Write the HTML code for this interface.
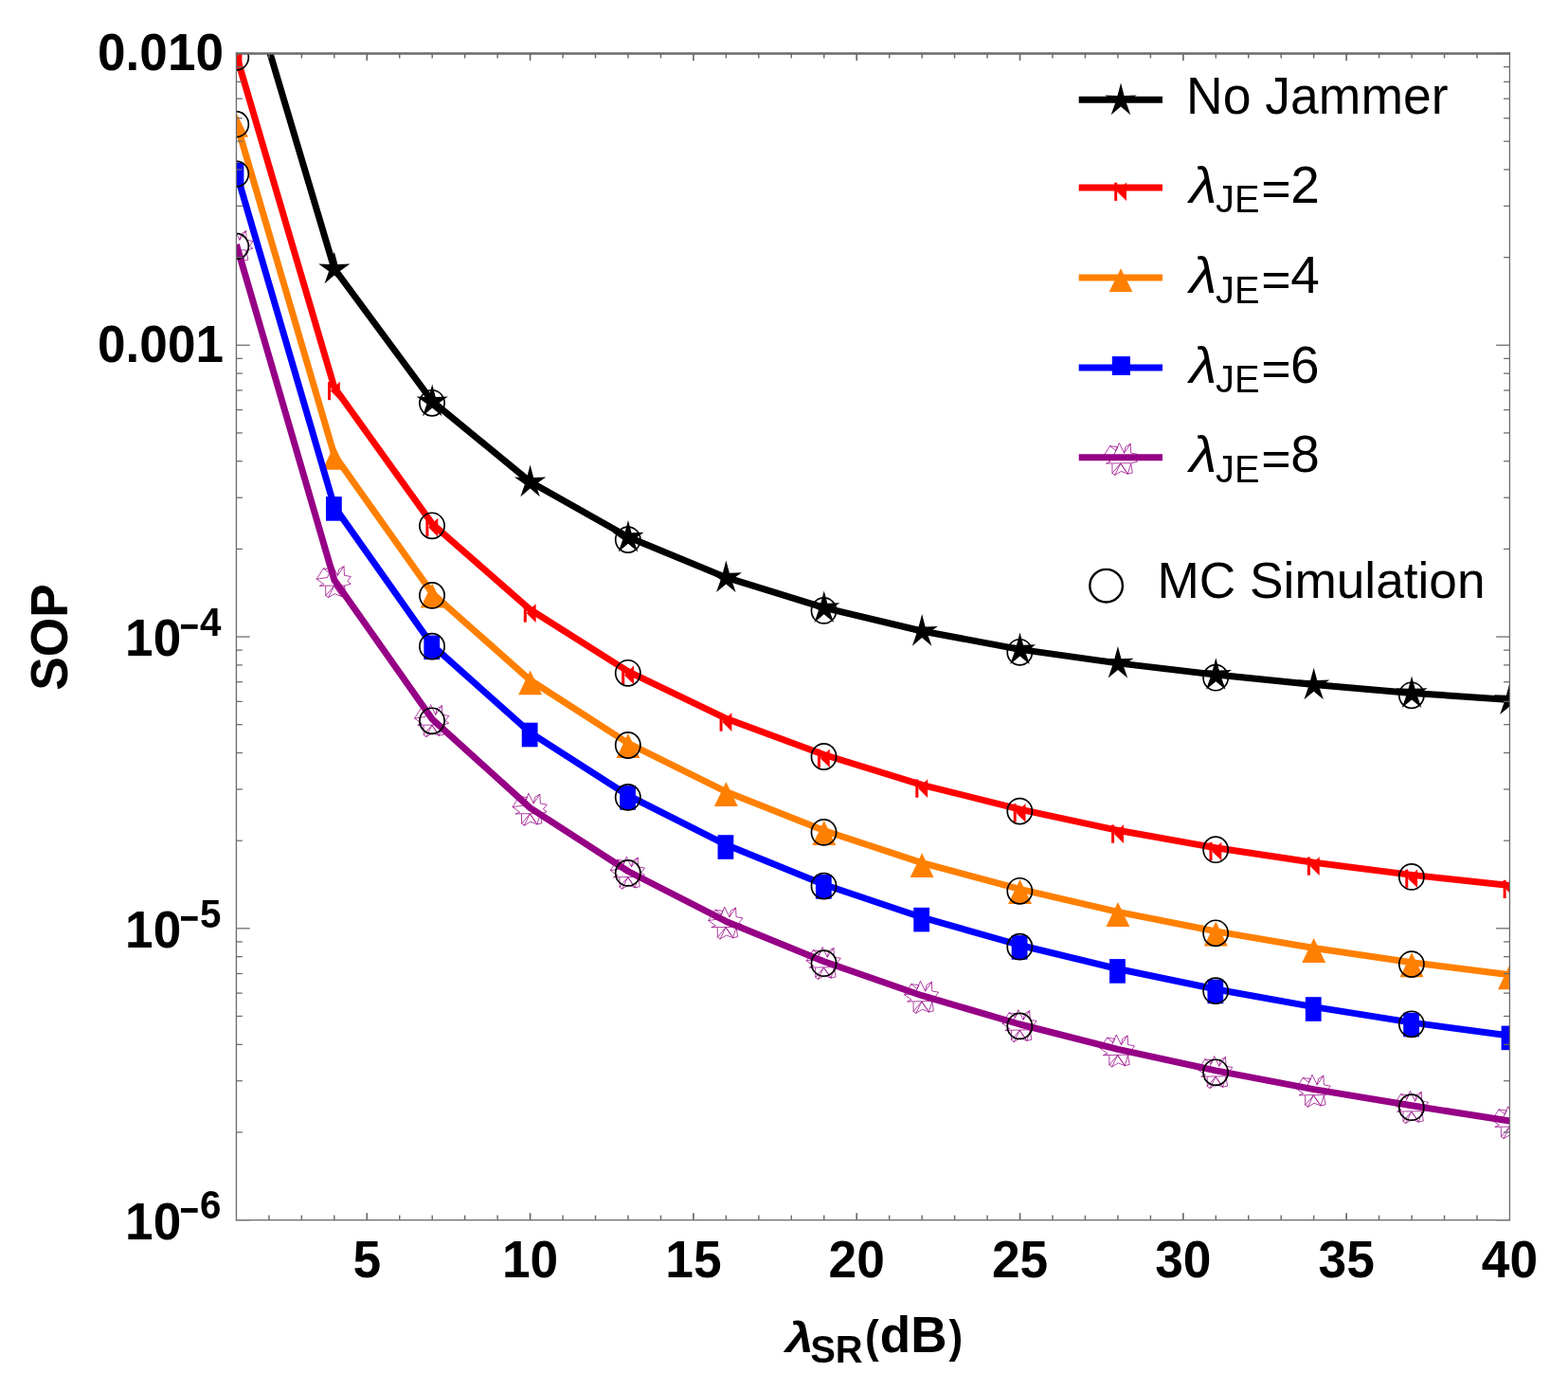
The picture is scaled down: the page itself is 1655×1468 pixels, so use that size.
<!DOCTYPE html>
<html lang="en"><head><meta charset="utf-8"><title>SOP versus λSR (dB)</title>
<style>html,body{margin:0;padding:0;background:#fff;}body{width:1655px;height:1468px;overflow:hidden;}svg{display:block;}text{font-family:'Liberation Sans', sans-serif;fill:#000;}</style>
</head><body>
<svg width="1655" height="1468" viewBox="0 0 1655 1468">
<rect x="0" y="0" width="1655" height="1468" fill="#ffffff"/>
<defs><clipPath id="plotclip"><rect x="249.45" y="56.5" width="1344" height="1231.1"/></clipPath></defs>
<g clip-path="url(#plotclip)">
<polyline points="249.45,-63 352.83,283.5 456.22,423.5 559.6,508.5 662.99,566.8 766.37,609.4 869.76,641.3 973.14,666 1076.53,685.4 1179.91,699.9 1283.3,712.1 1386.68,722.6 1490.07,731.4 1593.45,738.4" fill="none" stroke="#000000" stroke-width="7.0" stroke-linejoin="round"/>
<polygon points="249.45,-80.9 253,-67.53 266.09,-68.08 255.19,-60.37 259.74,-47.34 249.45,-55.95 239.16,-47.34 243.71,-60.37 232.81,-68.08 245.9,-67.53" fill="#000"/>
<polygon points="352.83,265.6 356.38,278.97 369.48,278.42 358.58,286.13 363.12,299.16 352.83,290.55 342.55,299.16 347.09,286.13 336.19,278.42 349.29,278.97" fill="#000"/>
<polygon points="456.22,405.6 459.77,418.97 472.86,418.42 461.96,426.13 466.51,439.16 456.22,430.55 445.93,439.16 450.48,426.13 439.58,418.42 452.67,418.97" fill="#000"/>
<polygon points="559.6,490.6 563.15,503.97 576.25,503.42 565.35,511.13 569.89,524.16 559.6,515.55 549.32,524.16 553.86,511.13 542.96,503.42 556.06,503.97" fill="#000"/>
<polygon points="662.99,548.9 666.54,562.27 679.63,561.72 668.73,569.43 673.27,582.46 662.99,573.85 652.7,582.46 657.25,569.43 646.34,561.72 659.44,562.27" fill="#000"/>
<polygon points="766.37,591.5 769.92,604.87 783.02,604.32 772.12,612.03 776.66,625.06 766.37,616.45 756.09,625.06 760.63,612.03 749.73,604.32 762.82,604.87" fill="#000"/>
<polygon points="869.76,623.4 873.31,636.77 886.4,636.22 875.5,643.93 880.04,656.96 869.76,648.35 859.47,656.96 864.02,643.93 853.11,636.22 866.21,636.77" fill="#000"/>
<polygon points="973.14,648.1 976.69,661.47 989.79,660.92 978.88,668.63 983.43,681.66 973.14,673.05 962.86,681.66 967.4,668.63 956.5,660.92 969.59,661.47" fill="#000"/>
<polygon points="1076.53,667.5 1080.08,680.87 1093.17,680.32 1082.27,688.03 1086.81,701.06 1076.53,692.45 1066.24,701.06 1070.78,688.03 1059.88,680.32 1072.98,680.87" fill="#000"/>
<polygon points="1179.91,682 1183.46,695.37 1196.56,694.82 1185.65,702.53 1190.2,715.56 1179.91,706.95 1169.63,715.56 1174.17,702.53 1163.27,694.82 1176.36,695.37" fill="#000"/>
<polygon points="1283.3,694.2 1286.84,707.57 1299.94,707.02 1289.04,714.73 1293.58,727.76 1283.3,719.15 1273.01,727.76 1277.55,714.73 1266.65,707.02 1279.75,707.57" fill="#000"/>
<polygon points="1386.68,704.7 1390.23,718.07 1403.32,717.52 1392.42,725.23 1396.97,738.26 1386.68,729.65 1376.39,738.26 1380.94,725.23 1370.04,717.52 1383.13,718.07" fill="#000"/>
<polygon points="1490.07,713.5 1493.61,726.87 1506.71,726.32 1495.81,734.03 1500.35,747.06 1490.07,738.45 1479.78,747.06 1484.32,734.03 1473.42,726.32 1486.52,726.87" fill="#000"/>
<polygon points="1593.45,720.5 1597,733.87 1610.09,733.32 1599.19,741.03 1603.74,754.06 1593.45,745.45 1583.16,754.06 1587.71,741.03 1576.81,733.32 1589.9,733.87" fill="#000"/>
<polyline points="249.45,58.3 352.83,408.8 456.22,552.8 559.6,643.3 662.99,708.6 766.37,758.3 869.76,796.5 973.14,828.3 1076.53,854.1 1179.91,876.3 1283.3,894.7 1386.68,910.3 1490.07,923.4 1593.45,934.6" fill="none" stroke="#ff0000" stroke-width="7.0" stroke-linejoin="round"/>
<rect x="242.65" y="52.5" width="3" height="19.2" fill="#ff0000"/><polygon points="245.45,62.1 255.45,52.3 255.45,71.9" fill="#ff0000"/>
<rect x="346.03" y="403" width="3" height="19.2" fill="#ff0000"/><polygon points="348.83,412.6 358.83,402.8 358.83,422.4" fill="#ff0000"/>
<rect x="449.42" y="547" width="3" height="19.2" fill="#ff0000"/><polygon points="452.22,556.6 462.22,546.8 462.22,566.4" fill="#ff0000"/>
<rect x="552.8" y="637.5" width="3" height="19.2" fill="#ff0000"/><polygon points="555.6,647.1 565.6,637.3 565.6,656.9" fill="#ff0000"/>
<rect x="656.19" y="702.8" width="3" height="19.2" fill="#ff0000"/><polygon points="658.99,712.4 668.99,702.6 668.99,722.2" fill="#ff0000"/>
<rect x="759.57" y="752.5" width="3" height="19.2" fill="#ff0000"/><polygon points="762.37,762.1 772.37,752.3 772.37,771.9" fill="#ff0000"/>
<rect x="862.96" y="790.7" width="3" height="19.2" fill="#ff0000"/><polygon points="865.76,800.3 875.76,790.5 875.76,810.1" fill="#ff0000"/>
<rect x="966.34" y="822.5" width="3" height="19.2" fill="#ff0000"/><polygon points="969.14,832.1 979.14,822.3 979.14,841.9" fill="#ff0000"/>
<rect x="1069.73" y="848.3" width="3" height="19.2" fill="#ff0000"/><polygon points="1072.53,857.9 1082.53,848.1 1082.53,867.7" fill="#ff0000"/>
<rect x="1173.11" y="870.5" width="3" height="19.2" fill="#ff0000"/><polygon points="1175.91,880.1 1185.91,870.3 1185.91,889.9" fill="#ff0000"/>
<rect x="1276.5" y="888.9" width="3" height="19.2" fill="#ff0000"/><polygon points="1279.3,898.5 1289.3,888.7 1289.3,908.3" fill="#ff0000"/>
<rect x="1379.88" y="904.5" width="3" height="19.2" fill="#ff0000"/><polygon points="1382.68,914.1 1392.68,904.3 1392.68,923.9" fill="#ff0000"/>
<rect x="1483.27" y="917.6" width="3" height="19.2" fill="#ff0000"/><polygon points="1486.07,927.2 1496.07,917.4 1496.07,937" fill="#ff0000"/>
<rect x="1586.65" y="928.8" width="3" height="19.2" fill="#ff0000"/><polygon points="1589.45,938.4 1599.45,928.6 1599.45,948.2" fill="#ff0000"/>
<polyline points="249.45,129.3 352.83,480.3 456.22,626.1 559.6,717.8 662.99,784.4 766.37,835.6 869.76,876.5 973.14,910.6 1076.53,938.4 1179.91,962.4 1283.3,982.9 1386.68,1000.5 1490.07,1015.7 1593.45,1028.7" fill="none" stroke="#ff8000" stroke-width="7.0" stroke-linejoin="round"/>
<polygon points="249.45,118.9 261.9,144.8 237,144.8" fill="#ff8000"/>
<polygon points="352.83,469.9 365.28,495.8 340.38,495.8" fill="#ff8000"/>
<polygon points="456.22,615.7 468.67,641.6 443.77,641.6" fill="#ff8000"/>
<polygon points="559.6,707.4 572.05,733.3 547.15,733.3" fill="#ff8000"/>
<polygon points="662.99,774 675.44,799.9 650.54,799.9" fill="#ff8000"/>
<polygon points="766.37,825.2 778.82,851.1 753.92,851.1" fill="#ff8000"/>
<polygon points="869.76,866.1 882.21,892 857.31,892" fill="#ff8000"/>
<polygon points="973.14,900.2 985.59,926.1 960.69,926.1" fill="#ff8000"/>
<polygon points="1076.53,928 1088.98,953.9 1064.08,953.9" fill="#ff8000"/>
<polygon points="1179.91,952 1192.36,977.9 1167.46,977.9" fill="#ff8000"/>
<polygon points="1283.3,972.5 1295.75,998.4 1270.85,998.4" fill="#ff8000"/>
<polygon points="1386.68,990.1 1399.13,1016 1374.23,1016" fill="#ff8000"/>
<polygon points="1490.07,1005.3 1502.52,1031.2 1477.62,1031.2" fill="#ff8000"/>
<polygon points="1593.45,1018.3 1605.9,1044.2 1581,1044.2" fill="#ff8000"/>
<polyline points="249.45,182 352.83,534.5 456.22,680.9 559.6,773.1 662.99,839.5 766.37,891.6 869.76,933.5 973.14,968.2 1076.53,997.5 1179.91,1022.5 1283.3,1044 1386.68,1062.6 1490.07,1079.1 1593.45,1093" fill="none" stroke="#0000ff" stroke-width="7.0" stroke-linejoin="round"/>
<rect x="240.6" y="171.6" width="16.8" height="25.6" fill="#0000ff"/>
<rect x="343.98" y="524.1" width="16.8" height="25.6" fill="#0000ff"/>
<rect x="447.37" y="670.5" width="16.8" height="25.6" fill="#0000ff"/>
<rect x="550.75" y="762.7" width="16.8" height="25.6" fill="#0000ff"/>
<rect x="654.14" y="829.1" width="16.8" height="25.6" fill="#0000ff"/>
<rect x="757.52" y="881.2" width="16.8" height="25.6" fill="#0000ff"/>
<rect x="860.91" y="923.1" width="16.8" height="25.6" fill="#0000ff"/>
<rect x="964.29" y="957.8" width="16.8" height="25.6" fill="#0000ff"/>
<rect x="1067.68" y="987.1" width="16.8" height="25.6" fill="#0000ff"/>
<rect x="1171.06" y="1012.1" width="16.8" height="25.6" fill="#0000ff"/>
<rect x="1274.45" y="1033.6" width="16.8" height="25.6" fill="#0000ff"/>
<rect x="1377.83" y="1052.2" width="16.8" height="25.6" fill="#0000ff"/>
<rect x="1481.22" y="1068.7" width="16.8" height="25.6" fill="#0000ff"/>
<rect x="1584.6" y="1082.6" width="16.8" height="25.6" fill="#0000ff"/>
<polyline points="249.45,258 352.83,612 456.22,759 559.6,852.6 662.99,919.5 766.37,972.4 869.76,1014.8 973.14,1050.7 1076.53,1081 1179.91,1107.3 1283.3,1129.9 1386.68,1149.6 1490.07,1166.8 1593.45,1183" fill="none" stroke="#960086" stroke-width="7.0" stroke-linejoin="round"/>
<path d="M230.85 257.1 L237.95 245.9 L244.45 250.9 L247.75 242.7 L252.95 253.3 L259.65 243.7 L260.15 253.3 L267.05 254.5 L263.25 259.4 L266.95 262.2 L259.65 264.3M237.95 245.9 L246.05 247 L242.05 255.5 L230.85 257.1 L238.45 262.5 L234.25 264.3M252.95 253.3 L254.45 246.8 L259.65 243.7M234.25 264.3 L258.95 263.9M240.35 265 L240.45 274.6 L243.15 276.6 L249.15 264.4 L256.75 275.3 L260.15 264.4 L261.75 274.2 L256.75 275.3M243.15 276.6 L249.85 272.6 L256.75 275.3M240.45 274.6 L249.15 264.4 L255.25 273" fill="none" stroke="#960086" stroke-width="0.75" stroke-linejoin="round" stroke-linecap="round"/>
<path d="M334.23 611.1 L341.33 599.9 L347.83 604.9 L351.13 596.7 L356.33 607.3 L363.03 597.7 L363.53 607.3 L370.43 608.5 L366.63 613.4 L370.33 616.2 L363.03 618.3M341.33 599.9 L349.43 601 L345.43 609.5 L334.23 611.1 L341.83 616.5 L337.63 618.3M356.33 607.3 L357.83 600.8 L363.03 597.7M337.63 618.3 L362.33 617.9M343.73 619 L343.83 628.6 L346.53 630.6 L352.53 618.4 L360.13 629.3 L363.53 618.4 L365.13 628.2 L360.13 629.3M346.53 630.6 L353.23 626.6 L360.13 629.3M343.83 628.6 L352.53 618.4 L358.63 627" fill="none" stroke="#960086" stroke-width="0.75" stroke-linejoin="round" stroke-linecap="round"/>
<path d="M437.62 758.1 L444.72 746.9 L451.22 751.9 L454.52 743.7 L459.72 754.3 L466.42 744.7 L466.92 754.3 L473.82 755.5 L470.02 760.4 L473.72 763.2 L466.42 765.3M444.72 746.9 L452.82 748 L448.82 756.5 L437.62 758.1 L445.22 763.5 L441.02 765.3M459.72 754.3 L461.22 747.8 L466.42 744.7M441.02 765.3 L465.72 764.9M447.12 766 L447.22 775.6 L449.92 777.6 L455.92 765.4 L463.52 776.3 L466.92 765.4 L468.52 775.2 L463.52 776.3M449.92 777.6 L456.62 773.6 L463.52 776.3M447.22 775.6 L455.92 765.4 L462.02 774" fill="none" stroke="#960086" stroke-width="0.75" stroke-linejoin="round" stroke-linecap="round"/>
<path d="M541 851.7 L548.1 840.5 L554.6 845.5 L557.9 837.3 L563.1 847.9 L569.8 838.3 L570.3 847.9 L577.2 849.1 L573.4 854 L577.1 856.8 L569.8 858.9M548.1 840.5 L556.2 841.6 L552.2 850.1 L541 851.7 L548.6 857.1 L544.4 858.9M563.1 847.9 L564.6 841.4 L569.8 838.3M544.4 858.9 L569.1 858.5M550.5 859.6 L550.6 869.2 L553.3 871.2 L559.3 859 L566.9 869.9 L570.3 859 L571.9 868.8 L566.9 869.9M553.3 871.2 L560 867.2 L566.9 869.9M550.6 869.2 L559.3 859 L565.4 867.6" fill="none" stroke="#960086" stroke-width="0.75" stroke-linejoin="round" stroke-linecap="round"/>
<path d="M644.39 918.6 L651.49 907.4 L657.99 912.4 L661.29 904.2 L666.49 914.8 L673.19 905.2 L673.69 914.8 L680.59 916 L676.79 920.9 L680.49 923.7 L673.19 925.8M651.49 907.4 L659.59 908.5 L655.59 917 L644.39 918.6 L651.99 924 L647.79 925.8M666.49 914.8 L667.99 908.3 L673.19 905.2M647.79 925.8 L672.49 925.4M653.89 926.5 L653.99 936.1 L656.69 938.1 L662.69 925.9 L670.29 936.8 L673.69 925.9 L675.29 935.7 L670.29 936.8M656.69 938.1 L663.39 934.1 L670.29 936.8M653.99 936.1 L662.69 925.9 L668.79 934.5" fill="none" stroke="#960086" stroke-width="0.75" stroke-linejoin="round" stroke-linecap="round"/>
<path d="M747.77 971.5 L754.87 960.3 L761.37 965.3 L764.67 957.1 L769.87 967.7 L776.57 958.1 L777.07 967.7 L783.97 968.9 L780.17 973.8 L783.87 976.6 L776.57 978.7M754.87 960.3 L762.97 961.4 L758.97 969.9 L747.77 971.5 L755.37 976.9 L751.17 978.7M769.87 967.7 L771.37 961.2 L776.57 958.1M751.17 978.7 L775.87 978.3M757.27 979.4 L757.37 989 L760.07 991 L766.07 978.8 L773.67 989.7 L777.07 978.8 L778.67 988.6 L773.67 989.7M760.07 991 L766.77 987 L773.67 989.7M757.37 989 L766.07 978.8 L772.17 987.4" fill="none" stroke="#960086" stroke-width="0.75" stroke-linejoin="round" stroke-linecap="round"/>
<path d="M851.16 1013.9 L858.26 1002.7 L864.76 1007.7 L868.06 999.5 L873.26 1010.1 L879.96 1000.5 L880.46 1010.1 L887.36 1011.3 L883.56 1016.2 L887.26 1019 L879.96 1021.1M858.26 1002.7 L866.36 1003.8 L862.36 1012.3 L851.16 1013.9 L858.76 1019.3 L854.56 1021.1M873.26 1010.1 L874.76 1003.6 L879.96 1000.5M854.56 1021.1 L879.26 1020.7M860.66 1021.8 L860.76 1031.4 L863.46 1033.4 L869.46 1021.2 L877.06 1032.1 L880.46 1021.2 L882.06 1031 L877.06 1032.1M863.46 1033.4 L870.16 1029.4 L877.06 1032.1M860.76 1031.4 L869.46 1021.2 L875.56 1029.8" fill="none" stroke="#960086" stroke-width="0.75" stroke-linejoin="round" stroke-linecap="round"/>
<path d="M954.54 1049.8 L961.64 1038.6 L968.14 1043.6 L971.44 1035.4 L976.64 1046 L983.34 1036.4 L983.84 1046 L990.74 1047.2 L986.94 1052.1 L990.64 1054.9 L983.34 1057M961.64 1038.6 L969.74 1039.7 L965.74 1048.2 L954.54 1049.8 L962.14 1055.2 L957.94 1057M976.64 1046 L978.14 1039.5 L983.34 1036.4M957.94 1057 L982.64 1056.6M964.04 1057.7 L964.14 1067.3 L966.84 1069.3 L972.84 1057.1 L980.44 1068 L983.84 1057.1 L985.44 1066.9 L980.44 1068M966.84 1069.3 L973.54 1065.3 L980.44 1068M964.14 1067.3 L972.84 1057.1 L978.94 1065.7" fill="none" stroke="#960086" stroke-width="0.75" stroke-linejoin="round" stroke-linecap="round"/>
<path d="M1057.93 1080.1 L1065.03 1068.9 L1071.53 1073.9 L1074.83 1065.7 L1080.03 1076.3 L1086.73 1066.7 L1087.23 1076.3 L1094.13 1077.5 L1090.33 1082.4 L1094.03 1085.2 L1086.73 1087.3M1065.03 1068.9 L1073.13 1070 L1069.13 1078.5 L1057.93 1080.1 L1065.53 1085.5 L1061.33 1087.3M1080.03 1076.3 L1081.53 1069.8 L1086.73 1066.7M1061.33 1087.3 L1086.03 1086.9M1067.43 1088 L1067.53 1097.6 L1070.23 1099.6 L1076.23 1087.4 L1083.83 1098.3 L1087.23 1087.4 L1088.83 1097.2 L1083.83 1098.3M1070.23 1099.6 L1076.93 1095.6 L1083.83 1098.3M1067.53 1097.6 L1076.23 1087.4 L1082.33 1096" fill="none" stroke="#960086" stroke-width="0.75" stroke-linejoin="round" stroke-linecap="round"/>
<path d="M1161.31 1106.4 L1168.41 1095.2 L1174.91 1100.2 L1178.21 1092 L1183.41 1102.6 L1190.11 1093 L1190.61 1102.6 L1197.51 1103.8 L1193.71 1108.7 L1197.41 1111.5 L1190.11 1113.6M1168.41 1095.2 L1176.51 1096.3 L1172.51 1104.8 L1161.31 1106.4 L1168.91 1111.8 L1164.71 1113.6M1183.41 1102.6 L1184.91 1096.1 L1190.11 1093M1164.71 1113.6 L1189.41 1113.2M1170.81 1114.3 L1170.91 1123.9 L1173.61 1125.9 L1179.61 1113.7 L1187.21 1124.6 L1190.61 1113.7 L1192.21 1123.5 L1187.21 1124.6M1173.61 1125.9 L1180.31 1121.9 L1187.21 1124.6M1170.91 1123.9 L1179.61 1113.7 L1185.71 1122.3" fill="none" stroke="#960086" stroke-width="0.75" stroke-linejoin="round" stroke-linecap="round"/>
<path d="M1264.7 1129 L1271.8 1117.8 L1278.3 1122.8 L1281.6 1114.6 L1286.8 1125.2 L1293.5 1115.6 L1294 1125.2 L1300.9 1126.4 L1297.1 1131.3 L1300.8 1134.1 L1293.5 1136.2M1271.8 1117.8 L1279.9 1118.9 L1275.9 1127.4 L1264.7 1129 L1272.3 1134.4 L1268.1 1136.2M1286.8 1125.2 L1288.3 1118.7 L1293.5 1115.6M1268.1 1136.2 L1292.8 1135.8M1274.2 1136.9 L1274.3 1146.5 L1277 1148.5 L1283 1136.3 L1290.6 1147.2 L1294 1136.3 L1295.6 1146.1 L1290.6 1147.2M1277 1148.5 L1283.7 1144.5 L1290.6 1147.2M1274.3 1146.5 L1283 1136.3 L1289.1 1144.9" fill="none" stroke="#960086" stroke-width="0.75" stroke-linejoin="round" stroke-linecap="round"/>
<path d="M1368.08 1148.7 L1375.18 1137.5 L1381.68 1142.5 L1384.98 1134.3 L1390.18 1144.9 L1396.88 1135.3 L1397.38 1144.9 L1404.28 1146.1 L1400.48 1151 L1404.18 1153.8 L1396.88 1155.9M1375.18 1137.5 L1383.28 1138.6 L1379.28 1147.1 L1368.08 1148.7 L1375.68 1154.1 L1371.48 1155.9M1390.18 1144.9 L1391.68 1138.4 L1396.88 1135.3M1371.48 1155.9 L1396.18 1155.5M1377.58 1156.6 L1377.68 1166.2 L1380.38 1168.2 L1386.38 1156 L1393.98 1166.9 L1397.38 1156 L1398.98 1165.8 L1393.98 1166.9M1380.38 1168.2 L1387.08 1164.2 L1393.98 1166.9M1377.68 1166.2 L1386.38 1156 L1392.48 1164.6" fill="none" stroke="#960086" stroke-width="0.75" stroke-linejoin="round" stroke-linecap="round"/>
<path d="M1471.47 1165.9 L1478.57 1154.7 L1485.07 1159.7 L1488.37 1151.5 L1493.57 1162.1 L1500.27 1152.5 L1500.77 1162.1 L1507.67 1163.3 L1503.87 1168.2 L1507.57 1171 L1500.27 1173.1M1478.57 1154.7 L1486.67 1155.8 L1482.67 1164.3 L1471.47 1165.9 L1479.07 1171.3 L1474.87 1173.1M1493.57 1162.1 L1495.07 1155.6 L1500.27 1152.5M1474.87 1173.1 L1499.57 1172.7M1480.97 1173.8 L1481.07 1183.4 L1483.77 1185.4 L1489.77 1173.2 L1497.37 1184.1 L1500.77 1173.2 L1502.37 1183 L1497.37 1184.1M1483.77 1185.4 L1490.47 1181.4 L1497.37 1184.1M1481.07 1183.4 L1489.77 1173.2 L1495.87 1181.8" fill="none" stroke="#960086" stroke-width="0.75" stroke-linejoin="round" stroke-linecap="round"/>
<path d="M1574.85 1182.1 L1581.95 1170.9 L1588.45 1175.9 L1591.75 1167.7 L1596.95 1178.3 L1603.65 1168.7 L1604.15 1178.3 L1611.05 1179.5 L1607.25 1184.4 L1610.95 1187.2 L1603.65 1189.3M1581.95 1170.9 L1590.05 1172 L1586.05 1180.5 L1574.85 1182.1 L1582.45 1187.5 L1578.25 1189.3M1596.95 1178.3 L1598.45 1171.8 L1603.65 1168.7M1578.25 1189.3 L1602.95 1188.9M1584.35 1190 L1584.45 1199.6 L1587.15 1201.6 L1593.15 1189.4 L1600.75 1200.3 L1604.15 1189.4 L1605.75 1199.2 L1600.75 1200.3M1587.15 1201.6 L1593.85 1197.6 L1600.75 1200.3M1584.45 1199.6 L1593.15 1189.4 L1599.25 1198" fill="none" stroke="#960086" stroke-width="0.75" stroke-linejoin="round" stroke-linecap="round"/>
<ellipse cx="456.02" cy="425.3" rx="13.1" ry="13.55" fill="none" stroke="#000" stroke-width="1.7"/>
<ellipse cx="662.79" cy="569.6" rx="13.1" ry="13.55" fill="none" stroke="#000" stroke-width="1.7"/>
<ellipse cx="869.56" cy="644.4" rx="13.1" ry="13.55" fill="none" stroke="#000" stroke-width="1.7"/>
<ellipse cx="1076.33" cy="688.3" rx="13.1" ry="13.55" fill="none" stroke="#000" stroke-width="1.7"/>
<ellipse cx="1283.1" cy="715.2" rx="13.1" ry="13.55" fill="none" stroke="#000" stroke-width="1.7"/>
<ellipse cx="1489.87" cy="733.8" rx="13.1" ry="13.55" fill="none" stroke="#000" stroke-width="1.7"/>
<ellipse cx="249.25" cy="60.5" rx="13.1" ry="13.55" fill="none" stroke="#000" stroke-width="1.7"/>
<ellipse cx="456.02" cy="554.8" rx="13.1" ry="13.55" fill="none" stroke="#000" stroke-width="1.7"/>
<ellipse cx="662.79" cy="710.3" rx="13.1" ry="13.55" fill="none" stroke="#000" stroke-width="1.7"/>
<ellipse cx="869.56" cy="798.5" rx="13.1" ry="13.55" fill="none" stroke="#000" stroke-width="1.7"/>
<ellipse cx="1076.33" cy="856.1" rx="13.1" ry="13.55" fill="none" stroke="#000" stroke-width="1.7"/>
<ellipse cx="1283.1" cy="896.7" rx="13.1" ry="13.55" fill="none" stroke="#000" stroke-width="1.7"/>
<ellipse cx="1489.87" cy="925.4" rx="13.1" ry="13.55" fill="none" stroke="#000" stroke-width="1.7"/>
<ellipse cx="249.25" cy="131.2" rx="13.1" ry="13.55" fill="none" stroke="#000" stroke-width="1.7"/>
<ellipse cx="456.02" cy="628.4" rx="13.1" ry="13.55" fill="none" stroke="#000" stroke-width="1.7"/>
<ellipse cx="662.79" cy="786.5" rx="13.1" ry="13.55" fill="none" stroke="#000" stroke-width="1.7"/>
<ellipse cx="869.56" cy="878.4" rx="13.1" ry="13.55" fill="none" stroke="#000" stroke-width="1.7"/>
<ellipse cx="1076.33" cy="940.3" rx="13.1" ry="13.55" fill="none" stroke="#000" stroke-width="1.7"/>
<ellipse cx="1283.1" cy="984.8" rx="13.1" ry="13.55" fill="none" stroke="#000" stroke-width="1.7"/>
<ellipse cx="1489.87" cy="1017.6" rx="13.1" ry="13.55" fill="none" stroke="#000" stroke-width="1.7"/>
<ellipse cx="249.25" cy="183.6" rx="13.1" ry="13.55" fill="none" stroke="#000" stroke-width="1.7"/>
<ellipse cx="456.02" cy="682.2" rx="13.1" ry="13.55" fill="none" stroke="#000" stroke-width="1.7"/>
<ellipse cx="662.79" cy="841.4" rx="13.1" ry="13.55" fill="none" stroke="#000" stroke-width="1.7"/>
<ellipse cx="869.56" cy="935.1" rx="13.1" ry="13.55" fill="none" stroke="#000" stroke-width="1.7"/>
<ellipse cx="1076.33" cy="999.2" rx="13.1" ry="13.55" fill="none" stroke="#000" stroke-width="1.7"/>
<ellipse cx="1283.1" cy="1045.7" rx="13.1" ry="13.55" fill="none" stroke="#000" stroke-width="1.7"/>
<ellipse cx="1489.87" cy="1080.8" rx="13.1" ry="13.55" fill="none" stroke="#000" stroke-width="1.7"/>
<ellipse cx="249.25" cy="259.9" rx="13.1" ry="13.55" fill="none" stroke="#000" stroke-width="1.7"/>
<ellipse cx="456.02" cy="760.8" rx="13.1" ry="13.55" fill="none" stroke="#000" stroke-width="1.7"/>
<ellipse cx="662.79" cy="921.4" rx="13.1" ry="13.55" fill="none" stroke="#000" stroke-width="1.7"/>
<ellipse cx="869.56" cy="1016.7" rx="13.1" ry="13.55" fill="none" stroke="#000" stroke-width="1.7"/>
<ellipse cx="1076.33" cy="1082.9" rx="13.1" ry="13.55" fill="none" stroke="#000" stroke-width="1.7"/>
<ellipse cx="1283.1" cy="1131.8" rx="13.1" ry="13.55" fill="none" stroke="#000" stroke-width="1.7"/>
<ellipse cx="1489.87" cy="1168.7" rx="13.1" ry="13.55" fill="none" stroke="#000" stroke-width="1.7"/>
</g>
<g stroke="#6a6a6a" fill="none">
<line x1="283.91" y1="1287.6" x2="283.91" y2="1282.6" stroke-width="1.45"/>
<line x1="283.91" y1="56.5" x2="283.91" y2="61.5" stroke-width="1.45"/>
<line x1="318.37" y1="1287.6" x2="318.37" y2="1282.6" stroke-width="1.45"/>
<line x1="318.37" y1="56.5" x2="318.37" y2="61.5" stroke-width="1.45"/>
<line x1="352.83" y1="1287.6" x2="352.83" y2="1282.6" stroke-width="1.45"/>
<line x1="352.83" y1="56.5" x2="352.83" y2="61.5" stroke-width="1.45"/>
<line x1="387.3" y1="1287.6" x2="387.3" y2="1280.2" stroke-width="1.7"/>
<line x1="387.3" y1="56.5" x2="387.3" y2="63.9" stroke-width="1.7"/>
<line x1="421.76" y1="1287.6" x2="421.76" y2="1282.6" stroke-width="1.45"/>
<line x1="421.76" y1="56.5" x2="421.76" y2="61.5" stroke-width="1.45"/>
<line x1="456.22" y1="1287.6" x2="456.22" y2="1282.6" stroke-width="1.45"/>
<line x1="456.22" y1="56.5" x2="456.22" y2="61.5" stroke-width="1.45"/>
<line x1="490.68" y1="1287.6" x2="490.68" y2="1282.6" stroke-width="1.45"/>
<line x1="490.68" y1="56.5" x2="490.68" y2="61.5" stroke-width="1.45"/>
<line x1="525.14" y1="1287.6" x2="525.14" y2="1282.6" stroke-width="1.45"/>
<line x1="525.14" y1="56.5" x2="525.14" y2="61.5" stroke-width="1.45"/>
<line x1="559.6" y1="1287.6" x2="559.6" y2="1280.2" stroke-width="1.7"/>
<line x1="559.6" y1="56.5" x2="559.6" y2="63.9" stroke-width="1.7"/>
<line x1="594.07" y1="1287.6" x2="594.07" y2="1282.6" stroke-width="1.45"/>
<line x1="594.07" y1="56.5" x2="594.07" y2="61.5" stroke-width="1.45"/>
<line x1="628.53" y1="1287.6" x2="628.53" y2="1282.6" stroke-width="1.45"/>
<line x1="628.53" y1="56.5" x2="628.53" y2="61.5" stroke-width="1.45"/>
<line x1="662.99" y1="1287.6" x2="662.99" y2="1282.6" stroke-width="1.45"/>
<line x1="662.99" y1="56.5" x2="662.99" y2="61.5" stroke-width="1.45"/>
<line x1="697.45" y1="1287.6" x2="697.45" y2="1282.6" stroke-width="1.45"/>
<line x1="697.45" y1="56.5" x2="697.45" y2="61.5" stroke-width="1.45"/>
<line x1="731.91" y1="1287.6" x2="731.91" y2="1280.2" stroke-width="1.7"/>
<line x1="731.91" y1="56.5" x2="731.91" y2="63.9" stroke-width="1.7"/>
<line x1="766.37" y1="1287.6" x2="766.37" y2="1282.6" stroke-width="1.45"/>
<line x1="766.37" y1="56.5" x2="766.37" y2="61.5" stroke-width="1.45"/>
<line x1="800.83" y1="1287.6" x2="800.83" y2="1282.6" stroke-width="1.45"/>
<line x1="800.83" y1="56.5" x2="800.83" y2="61.5" stroke-width="1.45"/>
<line x1="835.3" y1="1287.6" x2="835.3" y2="1282.6" stroke-width="1.45"/>
<line x1="835.3" y1="56.5" x2="835.3" y2="61.5" stroke-width="1.45"/>
<line x1="869.76" y1="1287.6" x2="869.76" y2="1282.6" stroke-width="1.45"/>
<line x1="869.76" y1="56.5" x2="869.76" y2="61.5" stroke-width="1.45"/>
<line x1="904.22" y1="1287.6" x2="904.22" y2="1280.2" stroke-width="1.7"/>
<line x1="904.22" y1="56.5" x2="904.22" y2="63.9" stroke-width="1.7"/>
<line x1="938.68" y1="1287.6" x2="938.68" y2="1282.6" stroke-width="1.45"/>
<line x1="938.68" y1="56.5" x2="938.68" y2="61.5" stroke-width="1.45"/>
<line x1="973.14" y1="1287.6" x2="973.14" y2="1282.6" stroke-width="1.45"/>
<line x1="973.14" y1="56.5" x2="973.14" y2="61.5" stroke-width="1.45"/>
<line x1="1007.6" y1="1287.6" x2="1007.6" y2="1282.6" stroke-width="1.45"/>
<line x1="1007.6" y1="56.5" x2="1007.6" y2="61.5" stroke-width="1.45"/>
<line x1="1042.07" y1="1287.6" x2="1042.07" y2="1282.6" stroke-width="1.45"/>
<line x1="1042.07" y1="56.5" x2="1042.07" y2="61.5" stroke-width="1.45"/>
<line x1="1076.53" y1="1287.6" x2="1076.53" y2="1280.2" stroke-width="1.7"/>
<line x1="1076.53" y1="56.5" x2="1076.53" y2="63.9" stroke-width="1.7"/>
<line x1="1110.99" y1="1287.6" x2="1110.99" y2="1282.6" stroke-width="1.45"/>
<line x1="1110.99" y1="56.5" x2="1110.99" y2="61.5" stroke-width="1.45"/>
<line x1="1145.45" y1="1287.6" x2="1145.45" y2="1282.6" stroke-width="1.45"/>
<line x1="1145.45" y1="56.5" x2="1145.45" y2="61.5" stroke-width="1.45"/>
<line x1="1179.91" y1="1287.6" x2="1179.91" y2="1282.6" stroke-width="1.45"/>
<line x1="1179.91" y1="56.5" x2="1179.91" y2="61.5" stroke-width="1.45"/>
<line x1="1214.37" y1="1287.6" x2="1214.37" y2="1282.6" stroke-width="1.45"/>
<line x1="1214.37" y1="56.5" x2="1214.37" y2="61.5" stroke-width="1.45"/>
<line x1="1248.83" y1="1287.6" x2="1248.83" y2="1280.2" stroke-width="1.7"/>
<line x1="1248.83" y1="56.5" x2="1248.83" y2="63.9" stroke-width="1.7"/>
<line x1="1283.3" y1="1287.6" x2="1283.3" y2="1282.6" stroke-width="1.45"/>
<line x1="1283.3" y1="56.5" x2="1283.3" y2="61.5" stroke-width="1.45"/>
<line x1="1317.76" y1="1287.6" x2="1317.76" y2="1282.6" stroke-width="1.45"/>
<line x1="1317.76" y1="56.5" x2="1317.76" y2="61.5" stroke-width="1.45"/>
<line x1="1352.22" y1="1287.6" x2="1352.22" y2="1282.6" stroke-width="1.45"/>
<line x1="1352.22" y1="56.5" x2="1352.22" y2="61.5" stroke-width="1.45"/>
<line x1="1386.68" y1="1287.6" x2="1386.68" y2="1282.6" stroke-width="1.45"/>
<line x1="1386.68" y1="56.5" x2="1386.68" y2="61.5" stroke-width="1.45"/>
<line x1="1421.14" y1="1287.6" x2="1421.14" y2="1280.2" stroke-width="1.7"/>
<line x1="1421.14" y1="56.5" x2="1421.14" y2="63.9" stroke-width="1.7"/>
<line x1="1455.6" y1="1287.6" x2="1455.6" y2="1282.6" stroke-width="1.45"/>
<line x1="1455.6" y1="56.5" x2="1455.6" y2="61.5" stroke-width="1.45"/>
<line x1="1490.07" y1="1287.6" x2="1490.07" y2="1282.6" stroke-width="1.45"/>
<line x1="1490.07" y1="56.5" x2="1490.07" y2="61.5" stroke-width="1.45"/>
<line x1="1524.53" y1="1287.6" x2="1524.53" y2="1282.6" stroke-width="1.45"/>
<line x1="1524.53" y1="56.5" x2="1524.53" y2="61.5" stroke-width="1.45"/>
<line x1="1558.99" y1="1287.6" x2="1558.99" y2="1282.6" stroke-width="1.45"/>
<line x1="1558.99" y1="56.5" x2="1558.99" y2="61.5" stroke-width="1.45"/>
<line x1="249.45" y1="1287.6" x2="263.75" y2="1287.6" stroke-width="1.25"/>
<line x1="1593.45" y1="1287.6" x2="1579.15" y2="1287.6" stroke-width="1.25"/>
<line x1="249.45" y1="1194.95" x2="255.85" y2="1194.95" stroke-width="1.25"/>
<line x1="1593.45" y1="1194.95" x2="1587.05" y2="1194.95" stroke-width="1.25"/>
<line x1="249.45" y1="1140.75" x2="255.85" y2="1140.75" stroke-width="1.25"/>
<line x1="1593.45" y1="1140.75" x2="1587.05" y2="1140.75" stroke-width="1.25"/>
<line x1="249.45" y1="1102.3" x2="255.85" y2="1102.3" stroke-width="1.25"/>
<line x1="1593.45" y1="1102.3" x2="1587.05" y2="1102.3" stroke-width="1.25"/>
<line x1="249.45" y1="1072.47" x2="255.85" y2="1072.47" stroke-width="1.25"/>
<line x1="1593.45" y1="1072.47" x2="1587.05" y2="1072.47" stroke-width="1.25"/>
<line x1="249.45" y1="1048.1" x2="255.85" y2="1048.1" stroke-width="1.25"/>
<line x1="1593.45" y1="1048.1" x2="1587.05" y2="1048.1" stroke-width="1.25"/>
<line x1="249.45" y1="1027.5" x2="255.85" y2="1027.5" stroke-width="1.25"/>
<line x1="1593.45" y1="1027.5" x2="1587.05" y2="1027.5" stroke-width="1.25"/>
<line x1="249.45" y1="1009.65" x2="255.85" y2="1009.65" stroke-width="1.25"/>
<line x1="1593.45" y1="1009.65" x2="1587.05" y2="1009.65" stroke-width="1.25"/>
<line x1="249.45" y1="993.91" x2="255.85" y2="993.91" stroke-width="1.25"/>
<line x1="1593.45" y1="993.91" x2="1587.05" y2="993.91" stroke-width="1.25"/>
<line x1="249.45" y1="979.82" x2="263.75" y2="979.82" stroke-width="1.25"/>
<line x1="1593.45" y1="979.82" x2="1579.15" y2="979.82" stroke-width="1.25"/>
<line x1="249.45" y1="887.18" x2="255.85" y2="887.18" stroke-width="1.25"/>
<line x1="1593.45" y1="887.18" x2="1587.05" y2="887.18" stroke-width="1.25"/>
<line x1="249.45" y1="832.98" x2="255.85" y2="832.98" stroke-width="1.25"/>
<line x1="1593.45" y1="832.98" x2="1587.05" y2="832.98" stroke-width="1.25"/>
<line x1="249.45" y1="794.53" x2="255.85" y2="794.53" stroke-width="1.25"/>
<line x1="1593.45" y1="794.53" x2="1587.05" y2="794.53" stroke-width="1.25"/>
<line x1="249.45" y1="764.7" x2="255.85" y2="764.7" stroke-width="1.25"/>
<line x1="1593.45" y1="764.7" x2="1587.05" y2="764.7" stroke-width="1.25"/>
<line x1="249.45" y1="740.33" x2="255.85" y2="740.33" stroke-width="1.25"/>
<line x1="1593.45" y1="740.33" x2="1587.05" y2="740.33" stroke-width="1.25"/>
<line x1="249.45" y1="719.72" x2="255.85" y2="719.72" stroke-width="1.25"/>
<line x1="1593.45" y1="719.72" x2="1587.05" y2="719.72" stroke-width="1.25"/>
<line x1="249.45" y1="701.88" x2="255.85" y2="701.88" stroke-width="1.25"/>
<line x1="1593.45" y1="701.88" x2="1587.05" y2="701.88" stroke-width="1.25"/>
<line x1="249.45" y1="686.13" x2="255.85" y2="686.13" stroke-width="1.25"/>
<line x1="1593.45" y1="686.13" x2="1587.05" y2="686.13" stroke-width="1.25"/>
<line x1="249.45" y1="672.05" x2="263.75" y2="672.05" stroke-width="1.25"/>
<line x1="1593.45" y1="672.05" x2="1579.15" y2="672.05" stroke-width="1.25"/>
<line x1="249.45" y1="579.4" x2="255.85" y2="579.4" stroke-width="1.25"/>
<line x1="1593.45" y1="579.4" x2="1587.05" y2="579.4" stroke-width="1.25"/>
<line x1="249.45" y1="525.2" x2="255.85" y2="525.2" stroke-width="1.25"/>
<line x1="1593.45" y1="525.2" x2="1587.05" y2="525.2" stroke-width="1.25"/>
<line x1="249.45" y1="486.75" x2="255.85" y2="486.75" stroke-width="1.25"/>
<line x1="1593.45" y1="486.75" x2="1587.05" y2="486.75" stroke-width="1.25"/>
<line x1="249.45" y1="456.92" x2="255.85" y2="456.92" stroke-width="1.25"/>
<line x1="1593.45" y1="456.92" x2="1587.05" y2="456.92" stroke-width="1.25"/>
<line x1="249.45" y1="432.55" x2="255.85" y2="432.55" stroke-width="1.25"/>
<line x1="1593.45" y1="432.55" x2="1587.05" y2="432.55" stroke-width="1.25"/>
<line x1="249.45" y1="411.95" x2="255.85" y2="411.95" stroke-width="1.25"/>
<line x1="1593.45" y1="411.95" x2="1587.05" y2="411.95" stroke-width="1.25"/>
<line x1="249.45" y1="394.1" x2="255.85" y2="394.1" stroke-width="1.25"/>
<line x1="1593.45" y1="394.1" x2="1587.05" y2="394.1" stroke-width="1.25"/>
<line x1="249.45" y1="378.36" x2="255.85" y2="378.36" stroke-width="1.25"/>
<line x1="1593.45" y1="378.36" x2="1587.05" y2="378.36" stroke-width="1.25"/>
<line x1="249.45" y1="364.27" x2="263.75" y2="364.27" stroke-width="1.25"/>
<line x1="1593.45" y1="364.27" x2="1579.15" y2="364.27" stroke-width="1.25"/>
<line x1="249.45" y1="271.63" x2="255.85" y2="271.63" stroke-width="1.25"/>
<line x1="1593.45" y1="271.63" x2="1587.05" y2="271.63" stroke-width="1.25"/>
<line x1="249.45" y1="217.43" x2="255.85" y2="217.43" stroke-width="1.25"/>
<line x1="1593.45" y1="217.43" x2="1587.05" y2="217.43" stroke-width="1.25"/>
<line x1="249.45" y1="178.98" x2="255.85" y2="178.98" stroke-width="1.25"/>
<line x1="1593.45" y1="178.98" x2="1587.05" y2="178.98" stroke-width="1.25"/>
<line x1="249.45" y1="149.15" x2="255.85" y2="149.15" stroke-width="1.25"/>
<line x1="1593.45" y1="149.15" x2="1587.05" y2="149.15" stroke-width="1.25"/>
<line x1="249.45" y1="124.78" x2="255.85" y2="124.78" stroke-width="1.25"/>
<line x1="1593.45" y1="124.78" x2="1587.05" y2="124.78" stroke-width="1.25"/>
<line x1="249.45" y1="104.17" x2="255.85" y2="104.17" stroke-width="1.25"/>
<line x1="1593.45" y1="104.17" x2="1587.05" y2="104.17" stroke-width="1.25"/>
<line x1="249.45" y1="86.33" x2="255.85" y2="86.33" stroke-width="1.25"/>
<line x1="1593.45" y1="86.33" x2="1587.05" y2="86.33" stroke-width="1.25"/>
<line x1="249.45" y1="70.58" x2="255.85" y2="70.58" stroke-width="1.25"/>
<line x1="1593.45" y1="70.58" x2="1587.05" y2="70.58" stroke-width="1.25"/>
<line x1="249.45" y1="56.5" x2="263.75" y2="56.5" stroke-width="1.25"/>
<line x1="1593.45" y1="56.5" x2="1579.15" y2="56.5" stroke-width="1.25"/>
<line x1="249.45" y1="55.3" x2="249.45" y2="1288.25" stroke-width="1.3"/>
<line x1="1593.45" y1="55.3" x2="1593.45" y2="1288.25" stroke-width="1.3"/>
<line x1="248.8" y1="1287.6" x2="1594.1" y2="1287.6" stroke-width="1.3"/>
<line x1="248.8" y1="56.5" x2="1594.1" y2="56.5" stroke-width="2.5"/>
</g>
<text transform="translate(103.07 73.7) scale(0.9966 1.0461)" font-size="53.3" font-weight="bold">0.010</text>
<text transform="translate(103.07 382.01) scale(0.9966 1.0409)" font-size="53.3" font-weight="bold">0.001</text>
<g><text transform="translate(132.11 692.4) scale(0.9966 1.0464)" font-size="53.3" font-weight="bold">10</text><text transform="translate(189.43 676.49) scale(0.8883 1.1107)" font-size="39.8" font-weight="bold">−</text><text transform="translate(210.88 670.8) scale(1.0146 1.0500)" font-size="39.8" font-weight="bold">4</text></g>
<g><text transform="translate(132.11 1000.15) scale(0.9966 1.0464)" font-size="53.3" font-weight="bold">10</text><text transform="translate(189.43 984.24) scale(0.8883 1.1107)" font-size="39.8" font-weight="bold">−</text><text transform="translate(210.88 978.55) scale(1.0146 1.0500)" font-size="39.8" font-weight="bold">5</text></g>
<g><text transform="translate(132.11 1307.9) scale(0.9966 1.0464)" font-size="53.3" font-weight="bold">10</text><text transform="translate(189.43 1291.99) scale(0.8883 1.1107)" font-size="39.8" font-weight="bold">−</text><text transform="translate(210.88 1286.3) scale(1.0146 1.0500)" font-size="39.8" font-weight="bold">6</text></g>
<text transform="translate(372.47 1348.01) scale(1.0000 1.0354)" font-size="53.3" font-weight="bold">5</text>
<text transform="translate(529.96 1348.01) scale(1.0000 1.0332)" font-size="53.3" font-weight="bold">10</text>
<text transform="translate(702.27 1348.01) scale(1.0000 1.0354)" font-size="53.3" font-weight="bold">15</text>
<text transform="translate(874.57 1348.01) scale(1.0000 1.0331)" font-size="53.3" font-weight="bold">20</text>
<text transform="translate(1046.88 1348.01) scale(1.0000 1.0331)" font-size="53.3" font-weight="bold">25</text>
<text transform="translate(1219.19 1347.99) scale(1.0000 1.0325)" font-size="53.3" font-weight="bold">30</text>
<text transform="translate(1391.5 1347.99) scale(1.0000 1.0325)" font-size="53.3" font-weight="bold">35</text>
<text transform="translate(1563.8 1348.01) scale(1.0000 1.0332)" font-size="53.3" font-weight="bold">40</text>
<text transform="translate(71.4 728.73) rotate(-90) scale(1.0005 1.0457)" font-size="53.3" font-weight="bold">SOP</text>
<g><text transform="translate(828.91 1426.6) scale(1.0030 0.8256)" font-size="53.3" font-weight="bold" font-style="italic">λ</text><text transform="translate(855.22 1438.2) scale(1.0028 1.0429)" font-size="39.8" font-weight="bold">SR</text><text transform="translate(913.07 1427.07) scale(0.8296 0.9120)" font-size="53.3" font-weight="bold">(</text><text transform="translate(928.77 1426.73) scale(0.9959 1.0034)" font-size="53.3" font-weight="bold">dB</text><text transform="translate(1001.41 1427.07) scale(0.8296 0.9120)" font-size="53.3" font-weight="bold">)</text></g>
<line x1="1138.7" y1="105.3" x2="1227.0" y2="105.3" stroke="#000000" stroke-width="7.0"/>
<polygon points="1183,87.6 1186.55,100.97 1199.64,100.42 1188.74,108.13 1193.29,121.16 1183,112.55 1172.71,121.16 1177.26,108.13 1166.36,100.42 1179.45,100.97" fill="#000"/>
<line x1="1138.7" y1="198" x2="1227.0" y2="198" stroke="#ff0000" stroke-width="7.0"/>
<rect x="1176.2" y="192.7" width="3" height="19.2" fill="#ff0000"/><polygon points="1179,202.3 1189,192.5 1189,212.1" fill="#ff0000"/>
<line x1="1138.7" y1="293.1" x2="1227.0" y2="293.1" stroke="#ff8000" stroke-width="7.0"/>
<polygon points="1183,283.2 1195.4,308.1 1170.6,308.1" fill="#ff8000"/>
<line x1="1138.7" y1="387.9" x2="1227.0" y2="387.9" stroke="#0000ff" stroke-width="7.0"/>
<rect x="1173.8" y="376.1" width="19.1" height="19.9" fill="#0000ff"/>
<line x1="1138.7" y1="482.8" x2="1227.0" y2="482.8" stroke="#960086" stroke-width="7.0"/>
<path d="M1164.4 481.9 L1171.5 470.7 L1178 475.7 L1181.3 467.5 L1186.5 478.1 L1193.2 468.5 L1193.7 478.1 L1200.6 479.3 L1196.8 484.2 L1200.5 487 L1193.2 489.1M1171.5 470.7 L1179.6 471.8 L1175.6 480.3 L1164.4 481.9 L1172 487.3 L1167.8 489.1M1186.5 478.1 L1188 471.6 L1193.2 468.5M1167.8 489.1 L1192.5 488.7M1173.9 489.8 L1174 499.4 L1176.7 501.4 L1182.7 489.2 L1190.3 500.1 L1193.7 489.2 L1195.3 499 L1190.3 500.1M1176.7 501.4 L1183.4 497.4 L1190.3 500.1M1174 499.4 L1182.7 489.2 L1188.8 497.8" fill="none" stroke="#960086" stroke-width="0.75" stroke-linejoin="round" stroke-linecap="round"/>
<text transform="translate(1252.09 120.3) scale(1.0040 1.0296)" font-size="53.3">No Jammer</text>
<g><text transform="translate(1255.44 213.7) scale(1.1015 0.9935)" font-size="53.3" font-style="italic">λ</text><text transform="translate(1283.12 224.3) scale(1.0015 1.0286)" font-size="39.8">JE</text><text transform="translate(1331.16 216.37) scale(1.0087 0.9412)" font-size="53.3">=</text><text transform="translate(1362.14 213.7) scale(1.0300 1.0525)" font-size="53.3">2</text></g>
<g><text transform="translate(1255.44 309) scale(1.1015 0.9935)" font-size="53.3" font-style="italic">λ</text><text transform="translate(1283.12 319.6) scale(1.0015 1.0286)" font-size="39.8">JE</text><text transform="translate(1331.16 311.67) scale(1.0087 0.9412)" font-size="53.3">=</text><text transform="translate(1362.3 309) scale(1.0300 1.0541)" font-size="53.3">4</text></g>
<g><text transform="translate(1255.44 403.7) scale(1.1015 0.9935)" font-size="53.3" font-style="italic">λ</text><text transform="translate(1283.12 414.3) scale(1.0015 1.0286)" font-size="39.8">JE</text><text transform="translate(1331.16 406.37) scale(1.0087 0.9412)" font-size="53.3">=</text><text transform="translate(1361.96 403.7) scale(1.0300 1.0518)" font-size="53.3">6</text></g>
<g><text transform="translate(1255.44 498) scale(1.1015 0.9935)" font-size="53.3" font-style="italic">λ</text><text transform="translate(1283.12 508.6) scale(1.0015 1.0286)" font-size="39.8">JE</text><text transform="translate(1331.16 500.67) scale(1.0087 0.9412)" font-size="53.3">=</text><text transform="translate(1362.13 498) scale(1.0300 1.0516)" font-size="53.3">8</text></g>
<circle cx="1167.6" cy="618.2" r="17.3" fill="none" stroke="#000" stroke-width="2.4"/>
<text transform="translate(1221.52 631.41) scale(0.9988 1.0053)" font-size="53.3">MC Simulation</text>
</svg>
</body></html>
